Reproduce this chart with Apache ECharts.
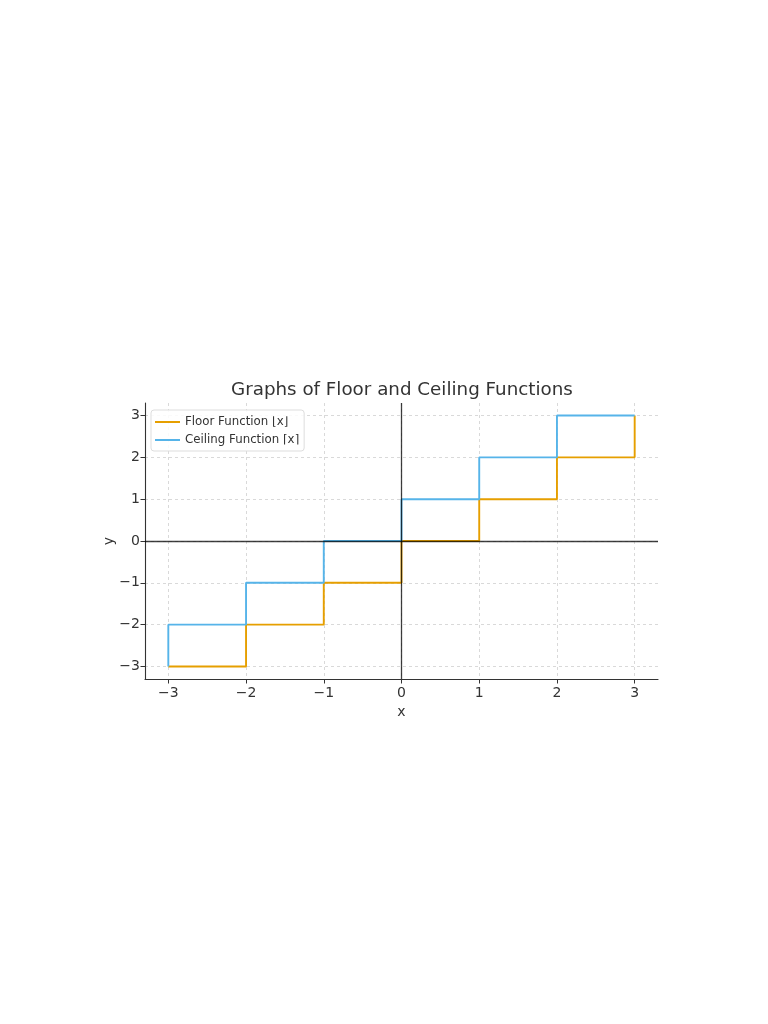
<!DOCTYPE html>
<html>
<head>
<meta charset="utf-8">
<script src="https://cdn.jsdelivr.net/npm/echarts@6/dist/echarts.min.js"></script>
<style>
html,body{margin:0;padding:0;background:#fff;}
#c{width:768px;height:1024px;}
</style>
</head>
<body>
<div id="c"></div>
<script>
var xPoints = [-3, -2, -1, 0, 1, 2, 3];
var floorValues = [-3, -2, -1, 0, 1, 2, 3];
var ceilValues = [-3, -2, -1, 0, 1, 2, 3];
var tickValues = [-3, -2, -1, 0, 1, 2, 3];
var titleText = 'Graphs of Floor and Ceiling Functions';
var floorName = 'Floor Function \u230Ax\u230B';
var ceilName = 'Ceiling Function \u2308x\u2309';

function fmt(v){ return String(v).replace('-', '\u2212'); }
function pairs(xs, ys){ return xs.map(function(x,i){ return [x, ys[i]]; }); }

var chart = echarts.init(document.getElementById('c'), null, {renderer:'canvas'});
var font = 'DejaVu Sans';
chart.setOption({
  animation:false,
  backgroundColor:'#fff',
  title:{
    text:titleText, left:226, top:376,
    textStyle:{fontFamily:font, fontSize:18.3, fontWeight:'normal', color:'#333'}
  },
  legend:{
    left:151, top:410, orient:'vertical', itemGap:6, itemWidth:25, itemHeight:2,
    padding:[6,5,5,4],
    borderColor:'#ddd', borderWidth:1, borderRadius:3, backgroundColor:'rgba(255,255,255,0.85)',
    textStyle:{fontFamily:font, fontSize:11.8, color:'#333'},
    icon:'rect',
    data:[floorName, ceilName]
  },
  grid:{left:145, right:110, top:403, bottom:345, containLabel:false},
  xAxis:{
    type:'value', min:-3.3, max:3.3, interval:1,
    name:'x', nameLocation:'middle', nameGap:26, nameMoveOverlap:false,
    nameTextStyle:{fontFamily:font, fontSize:14, color:'#333'},
    axisLine:{show:true, onZero:false, lineStyle:{color:'#333', width:1.1}},
    axisTick:{show:true, inside:false, length:4.5, lineStyle:{color:'#333'}, customValues:tickValues},
    axisLabel:{fontFamily:font, fontSize:14, color:'#333', margin:7, formatter:fmt, customValues:tickValues, showMinLabel:true, showMaxLabel:true},
    splitLine:{show:true, lineStyle:{color:'#d0d0d0', type:[3,3], width:0.8}}
  },
  yAxis:{
    type:'value', min:-3.3, max:3.3, interval:1,
    name:'y', nameLocation:'middle', nameGap:29, nameMoveOverlap:false,
    nameTextStyle:{fontFamily:font, fontSize:14, color:'#333'},
    axisLine:{show:true, onZero:false, lineStyle:{color:'#333', width:1.1}},
    axisTick:{show:true, inside:false, length:4.5, lineStyle:{color:'#333'}, customValues:tickValues},
    axisLabel:{fontFamily:font, fontSize:14, color:'#333', margin:5, formatter:fmt, customValues:tickValues},
    splitLine:{show:true, lineStyle:{color:'#d0d0d0', type:[3,3], width:0.8}}
  },
  series:[
    {
      name:floorName, type:'line', step:'end', data:pairs(xPoints, floorValues),
      showSymbol:false, symbol:'none', lineStyle:{color:'#E69F00', width:1.9}, itemStyle:{color:'#E69F00'}, z:2
    },
    {
      name:ceilName, type:'line', step:'start', data:pairs(xPoints, ceilValues),
      showSymbol:false, symbol:'none', lineStyle:{color:'#56B4E9', width:1.9}, itemStyle:{color:'#56B4E9'}, z:2,
      markLine:{
        silent:true, symbol:['none','none'], label:{show:false}, animation:false,
        lineStyle:{color:'rgba(0,0,0,0.75)', width:1.3, type:'solid'},
        data:[{xAxis:0},{yAxis:0}],
        z:5
      }
    }
  ]
});
</script>
</body>
</html>
